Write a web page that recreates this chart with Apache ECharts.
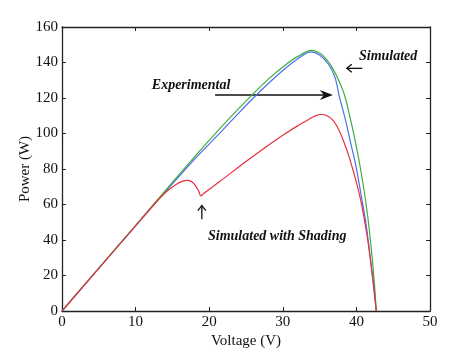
<!DOCTYPE html>
<html>
<head>
<meta charset="utf-8">
<script src="https://cdn.jsdelivr.net/npm/echarts@6/dist/echarts.min.js"></script>
<style>
  html, body { margin: 0; padding: 0; background: #fff; }
  #chart { width: 474px; height: 354px; }
</style>
</head>
<body>
<div id="chart"></div>
<script>
// axis ticks
const xTicks = [0, 10, 20, 30, 40, 50];
const yTicks = [0, 20, 40, 60, 80, 100, 120, 140, 160];

// Experimental (blue)
const expV = [0, 10, 14, 18, 21.5, 24, 26, 28, 30, 32, 33.8, 35, 36.2, 37.1, 37.7, 38.5, 39.2, 39.9, 40.7, 41.2, 41.6, 42.1, 42.7];
const expP = [0, 48, 67, 85.5, 100.5, 111.5, 120, 128, 135.5, 142, 146, 144.2, 139, 131.5, 120.5, 108, 95, 82.4, 64, 52, 40, 22, 0];

// Simulated (green)
const simV = [0, 5, 10, 14, 18, 21.5, 24, 26, 28, 30, 32, 33.9, 35, 36, 37, 38, 38.5, 39, 39.5, 40, 40.5, 41, 41.5, 42, 42.4, 42.7];
const simP = [0, 24.2, 48.3, 67.6, 86.8, 103, 114, 122.5, 130.5, 137.5, 143.3, 146.8, 145.3, 141.5, 135, 126, 120, 111.5, 102.5, 92.5, 81.5, 69, 54.5, 36, 18, 0];

// Simulated with shading (red)
const shadeV = [0, 10, 12.5, 13.5, 14.5, 15.5, 16.3, 17.1, 17.8, 18.3, 18.6, 18.85, 19.2, 21.5, 25.5, 28, 30, 32, 33.5, 34.5, 35.2, 36, 36.8, 37.5, 38, 38.5, 39, 39.5, 40, 40.5, 41, 41.5, 42, 42.4, 42.7];
const shadeP = [0, 48, 60, 64.5, 68.3, 71.3, 73, 73.6, 72.3, 69.5, 67.3, 64.8, 66, 73.2, 85.8, 93.3, 99, 104.3, 107.9, 110.1, 110.7, 110, 107.5, 103, 98.5, 93, 87, 80, 72.5, 64, 53.5, 41, 26, 13, 0];

const zip = (a, b) => a.map((v, i) => [v, b[i]]);

const serif = '"Liberation Serif", "DejaVu Serif", serif';
const frameColor = '#222';

function axisX(pos, labels) {
  return {
    type: 'value', position: pos, min: xTicks[0], max: xTicks[xTicks.length - 1], interval: 10,
    axisLine: { show: true, onZero: false, lineStyle: { color: frameColor, width: 1.3 } },
    axisTick: { show: true, inside: true, length: 4, lineStyle: { color: frameColor } },
    axisLabel: { show: labels, color: '#111', fontFamily: serif, fontSize: 15, margin: 4 },
    splitLine: { show: false },
    name: labels ? 'Voltage (V)' : '', nameLocation: 'middle', nameGap: 23, nameMoveOverlap: false,
    nameTextStyle: { color: '#111', fontFamily: serif, fontSize: 15 }
  };
}
function axisY(pos, labels) {
  return {
    type: 'value', position: pos, min: yTicks[0], max: yTicks[yTicks.length - 1], interval: 20,
    axisLine: { show: true, onZero: false, lineStyle: { color: frameColor, width: 1.3 } },
    axisTick: { show: true, inside: true, length: 4, lineStyle: { color: frameColor } },
    axisLabel: { show: labels, color: '#111', fontFamily: serif, fontSize: 15, margin: 4 },
    splitLine: { show: false },
    name: labels ? 'Power (W)' : '', nameLocation: 'middle', nameGap: 29, nameMoveOverlap: false,
    nameTextStyle: { color: '#111', fontFamily: serif, fontSize: 15 }
  };
}

const line = (name, color, v, p) => ({
  name, type: 'line', data: zip(v, p), showSymbol: false, smooth: 0.3,
  xAxisIndex: 0, yAxisIndex: 0, silent: true, animation: false,
  lineStyle: { color, width: 1.2 }
});

const chart = echarts.init(document.getElementById('chart'));
chart.setOption({
  animation: false,
  backgroundColor: '#fff',
  grid: { left: 62, right: 44, top: 27, bottom: 39 },
  xAxis: [axisX('bottom', true), axisX('top', false)],
  yAxis: [axisY('left', true), axisY('right', false)],
  series: [
    line('Experimental', '#4f6df0', expV, expP),
    line('Simulated', '#3fae3f', simV, simP),
    line('Simulated with Shading', '#e5323c', shadeV, shadeP)
  ]
});

// annotations, placed in data coordinates
const px = (v, p) => chart.convertToPixel({ xAxisIndex: 0, yAxisIndex: 0 }, [v, p]);
const label = (text, v, p) => {
  const [x, y] = px(v, p);
  return { type: 'text', x, y, style: { text, fill: '#111', font: 'italic bold 14px ' + serif, verticalAlign: 'middle', align: 'left' } };
};
const seg = (a, b) => ({ type: 'line', shape: { x1: a[0], y1: a[1], x2: b[0], y2: b[1] }, style: { stroke: '#111', lineWidth: 1.3 } });

const e0 = px(20.8, 121.7), e1 = px(36.8, 121.7);
const s0 = px(40.8, 136.7), s1 = px(38.7, 136.7);
const h0 = px(19.0, 51.7), h1 = px(19.0, 59.4);

chart.setOption({
  graphic: [
    label('Experimental', 12.2, 127.2),
    seg(e0, [e1[0] - 6, e1[1]]),
    { type: 'polygon', shape: { points: [[e1[0], e1[1]], [e1[0] - 13, e1[1] - 5], [e1[0] - 9, e1[1]], [e1[0] - 13, e1[1] + 5]] }, style: { fill: '#111' } },
    label('Simulated', 40.35, 143.3),
    seg(s0, s1),
    { type: 'polyline', shape: { points: [[s1[0] + 5, s1[1] - 4], s1, [s1[0] + 5, s1[1] + 4]] }, style: { stroke: '#111', lineWidth: 1.3, fill: null } },
    label('Simulated with Shading', 19.84, 42.2),
    seg(h0, h1),
    { type: 'polyline', shape: { points: [[h1[0] - 4, h1[1] + 5], h1, [h1[0] + 4, h1[1] + 5]] }, style: { stroke: '#111', lineWidth: 1.3, fill: null } }
  ]
});
</script>
</body>
</html>
